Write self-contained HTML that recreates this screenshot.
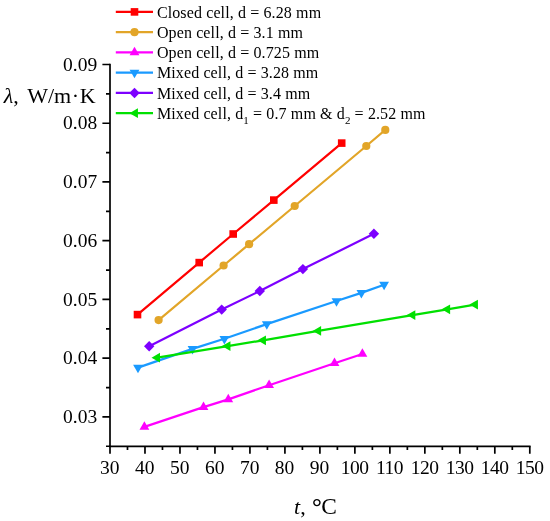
<!DOCTYPE html>
<html><head><meta charset="utf-8"><title>chart</title>
<style>
html,body{margin:0;padding:0;background:#fff;}
svg{display:block;font-family:"Liberation Serif",serif;fill:#000;}
</style></head><body>
<svg width="550" height="521" viewBox="0 0 550 521">
<rect width="550" height="521" fill="#fff"/>
<g stroke="#000" stroke-width="1.7" fill="none" stroke-linecap="butt">
<path d="M110.0 63.7 V447.1"/>
<path d="M109.2 446.3 H530.5999999999999"/>
<path d="M102.4 416.90 H110.0 M106.0 446.27 H110.0 M102.4 358.17 H110.0 M106.0 387.53 H110.0 M102.4 299.43 H110.0 M106.0 328.80 H110.0 M102.4 240.70 H110.0 M106.0 270.07 H110.0 M102.4 181.97 H110.0 M106.0 211.33 H110.0 M102.4 123.23 H110.0 M106.0 152.60 H110.0 M102.4 64.50 H110.0 M106.0 93.87 H110.0 "/>
<path d="M110.00 446.3 V453.7 M127.49 446.3 V450.1 M144.98 446.3 V453.7 M162.47 446.3 V450.1 M179.97 446.3 V453.7 M197.46 446.3 V450.1 M214.95 446.3 V453.7 M232.44 446.3 V450.1 M249.93 446.3 V453.7 M267.42 446.3 V450.1 M284.92 446.3 V453.7 M302.41 446.3 V450.1 M319.90 446.3 V453.7 M337.39 446.3 V450.1 M354.88 446.3 V453.7 M372.38 446.3 V450.1 M389.87 446.3 V453.7 M407.36 446.3 V450.1 M424.85 446.3 V453.7 M442.34 446.3 V450.1 M459.83 446.3 V453.7 M477.32 446.3 V450.1 M494.82 446.3 V453.7 M512.31 446.3 V450.1 M529.80 446.3 V453.7 "/>
</g>
<g font-size="19.5" text-anchor="end">
<text x="97.2" y="423.10">0.03</text>
<text x="97.2" y="364.37">0.04</text>
<text x="97.2" y="305.63">0.05</text>
<text x="97.2" y="246.90">0.06</text>
<text x="97.2" y="188.17">0.07</text>
<text x="97.2" y="129.43">0.08</text>
<text x="97.2" y="70.70">0.09</text>
</g>
<g font-size="19.5" text-anchor="middle">
<text x="109.70" y="474.2">30</text>
<text x="144.68" y="474.2">40</text>
<text x="179.67" y="474.2">50</text>
<text x="214.65" y="474.2">60</text>
<text x="249.63" y="474.2">70</text>
<text x="284.62" y="474.2">80</text>
<text x="319.60" y="474.2">90</text>
<text x="354.58" y="474.2" letter-spacing="-0.5">100</text>
<text x="389.57" y="474.2" letter-spacing="-0.5">110</text>
<text x="424.55" y="474.2" letter-spacing="-0.5">120</text>
<text x="459.53" y="474.2" letter-spacing="-0.5">130</text>
<text x="494.52" y="474.2" letter-spacing="-0.5">140</text>
<text x="529.50" y="474.2" letter-spacing="-0.5">150</text>
</g>
<text y="102.6" font-size="22"><tspan x="3.7" font-style="italic">λ</tspan><tspan>,</tspan><tspan x="27.2">W/m</tspan><tspan x="71.8">·</tspan><tspan x="79.8">K</tspan></text>
<text y="514" font-size="22"><tspan x="294" font-style="italic">t</tspan><tspan>,</tspan><tspan x="311.5" dy="4.1" font-family="Liberation Sans, sans-serif" font-size="27">°</tspan><tspan x="321.3" dy="-4.1" font-size="23.4">C</tspan></text>
<polyline points="137.50,314.60 199.20,262.60 233.20,234.00 273.80,200.10 341.70,143.10" fill="none" stroke="#ff0000" stroke-width="2.2" stroke-linejoin="round"/>
<rect x="133.70" y="310.80" width="7.6" height="7.6" fill="#ff0000"/>
<rect x="195.40" y="258.80" width="7.6" height="7.6" fill="#ff0000"/>
<rect x="229.40" y="230.20" width="7.6" height="7.6" fill="#ff0000"/>
<rect x="270.00" y="196.30" width="7.6" height="7.6" fill="#ff0000"/>
<rect x="337.90" y="139.30" width="7.6" height="7.6" fill="#ff0000"/>
<polyline points="158.60,320.10 223.60,265.50 249.10,244.20 294.70,206.00 366.30,146.00 385.30,129.90" fill="none" stroke="#e2a528" stroke-width="2.2" stroke-linejoin="round"/>
<circle cx="158.60" cy="320.10" r="4.1" fill="#e2a528"/>
<circle cx="223.60" cy="265.50" r="4.1" fill="#e2a528"/>
<circle cx="249.10" cy="244.20" r="4.1" fill="#e2a528"/>
<circle cx="294.70" cy="206.00" r="4.1" fill="#e2a528"/>
<circle cx="366.30" cy="146.00" r="4.1" fill="#e2a528"/>
<circle cx="385.30" cy="129.90" r="4.1" fill="#e2a528"/>
<polyline points="144.40,426.90 203.50,407.10 228.30,399.40 269.10,385.20 334.50,363.20 362.40,354.00" fill="none" stroke="#ff00ff" stroke-width="2.2" stroke-linejoin="round"/>
<polygon points="139.50,429.73 149.30,429.73 144.40,421.23" fill="#ff00ff"/>
<polygon points="198.60,409.93 208.40,409.93 203.50,401.43" fill="#ff00ff"/>
<polygon points="223.40,402.23 233.20,402.23 228.30,393.73" fill="#ff00ff"/>
<polygon points="264.20,388.03 274.00,388.03 269.10,379.53" fill="#ff00ff"/>
<polygon points="329.60,366.03 339.40,366.03 334.50,357.53" fill="#ff00ff"/>
<polygon points="357.50,356.83 367.30,356.83 362.40,348.33" fill="#ff00ff"/>
<polyline points="138.00,367.60 192.50,348.90 224.40,338.80 266.80,324.10 336.50,301.00 361.40,292.90 384.10,284.70" fill="none" stroke="#1a9aff" stroke-width="2.2" stroke-linejoin="round"/>
<polygon points="133.10,364.77 142.90,364.77 138.00,373.27" fill="#1a9aff"/>
<polygon points="187.60,346.07 197.40,346.07 192.50,354.57" fill="#1a9aff"/>
<polygon points="219.50,335.97 229.30,335.97 224.40,344.47" fill="#1a9aff"/>
<polygon points="261.90,321.27 271.70,321.27 266.80,329.77" fill="#1a9aff"/>
<polygon points="331.60,298.17 341.40,298.17 336.50,306.67" fill="#1a9aff"/>
<polygon points="356.50,290.07 366.30,290.07 361.40,298.57" fill="#1a9aff"/>
<polygon points="379.20,281.87 389.00,281.87 384.10,290.37" fill="#1a9aff"/>
<polyline points="149.20,346.20 221.70,309.60 259.80,291.00 302.90,269.10 373.90,233.80" fill="none" stroke="#7d00ff" stroke-width="2.2" stroke-linejoin="round"/>
<polygon points="144.00,346.20 149.20,341.00 154.40,346.20 149.20,351.40" fill="#7d00ff"/>
<polygon points="216.50,309.60 221.70,304.40 226.90,309.60 221.70,314.80" fill="#7d00ff"/>
<polygon points="254.60,291.00 259.80,285.80 265.00,291.00 259.80,296.20" fill="#7d00ff"/>
<polygon points="297.70,269.10 302.90,263.90 308.10,269.10 302.90,274.30" fill="#7d00ff"/>
<polygon points="368.70,233.80 373.90,228.60 379.10,233.80 373.90,239.00" fill="#7d00ff"/>
<polyline points="157.20,357.70 227.60,346.10 263.10,340.30 318.30,330.90 412.50,315.10 447.30,309.30 475.10,304.60" fill="none" stroke="#00e000" stroke-width="2.2" stroke-linejoin="round"/>
<polygon points="160.03,352.80 160.03,362.60 151.53,357.70" fill="#00e000"/>
<polygon points="230.43,341.20 230.43,351.00 221.93,346.10" fill="#00e000"/>
<polygon points="265.93,335.40 265.93,345.20 257.43,340.30" fill="#00e000"/>
<polygon points="321.13,326.00 321.13,335.80 312.63,330.90" fill="#00e000"/>
<polygon points="415.33,310.20 415.33,320.00 406.83,315.10" fill="#00e000"/>
<polygon points="450.13,304.40 450.13,314.20 441.63,309.30" fill="#00e000"/>
<polygon points="477.93,299.70 477.93,309.50 469.43,304.60" fill="#00e000"/>
<path d="M115.8 11.90 H153" stroke="#ff0000" stroke-width="2.2"/>
<rect x="130.70" y="8.10" width="7.6" height="7.6" fill="#ff0000"/>
<text x="156.9" y="17.60" font-size="16" letter-spacing="0.12">Closed cell, d = 6.28 mm</text>
<path d="M115.8 32.16 H153" stroke="#e2a528" stroke-width="2.2"/>
<circle cx="134.50" cy="32.16" r="4.1" fill="#e2a528"/>
<text x="156.9" y="37.86" font-size="16" letter-spacing="0.12">Open cell, d = 3.1 mm</text>
<path d="M115.8 52.42 H153" stroke="#ff00ff" stroke-width="2.2"/>
<polygon points="129.60,55.35 139.40,55.35 134.50,46.85" fill="#ff00ff"/>
<text x="156.9" y="58.12" font-size="16" letter-spacing="0.12">Open cell, d = 0.725 mm</text>
<path d="M115.8 72.68 H153" stroke="#1a9aff" stroke-width="2.2"/>
<polygon points="129.60,69.75 139.40,69.75 134.50,78.25" fill="#1a9aff"/>
<text x="156.9" y="78.38" font-size="16" letter-spacing="0.12">Mixed cell, d = 3.28 mm</text>
<path d="M115.8 92.94 H153" stroke="#7d00ff" stroke-width="2.2"/>
<polygon points="129.30,92.94 134.50,87.74 139.70,92.94 134.50,98.14" fill="#7d00ff"/>
<text x="156.9" y="98.64" font-size="16" letter-spacing="0.12">Mixed cell, d = 3.4 mm</text>
<path d="M115.8 113.20 H153" stroke="#00e000" stroke-width="2.2"/>
<polygon points="137.93,108.30 137.93,118.10 129.43,113.20" fill="#00e000"/>
<text x="156.9" y="118.90" font-size="16" letter-spacing="0.12">Mixed cell, d<tspan font-size="11" dy="4.6">1</tspan><tspan dy="-4.6"> = 0.7 mm &amp; d</tspan><tspan font-size="11" dy="4.6">2</tspan><tspan dy="-4.6"> = 2.52 mm</tspan></text>
</svg></body></html>
